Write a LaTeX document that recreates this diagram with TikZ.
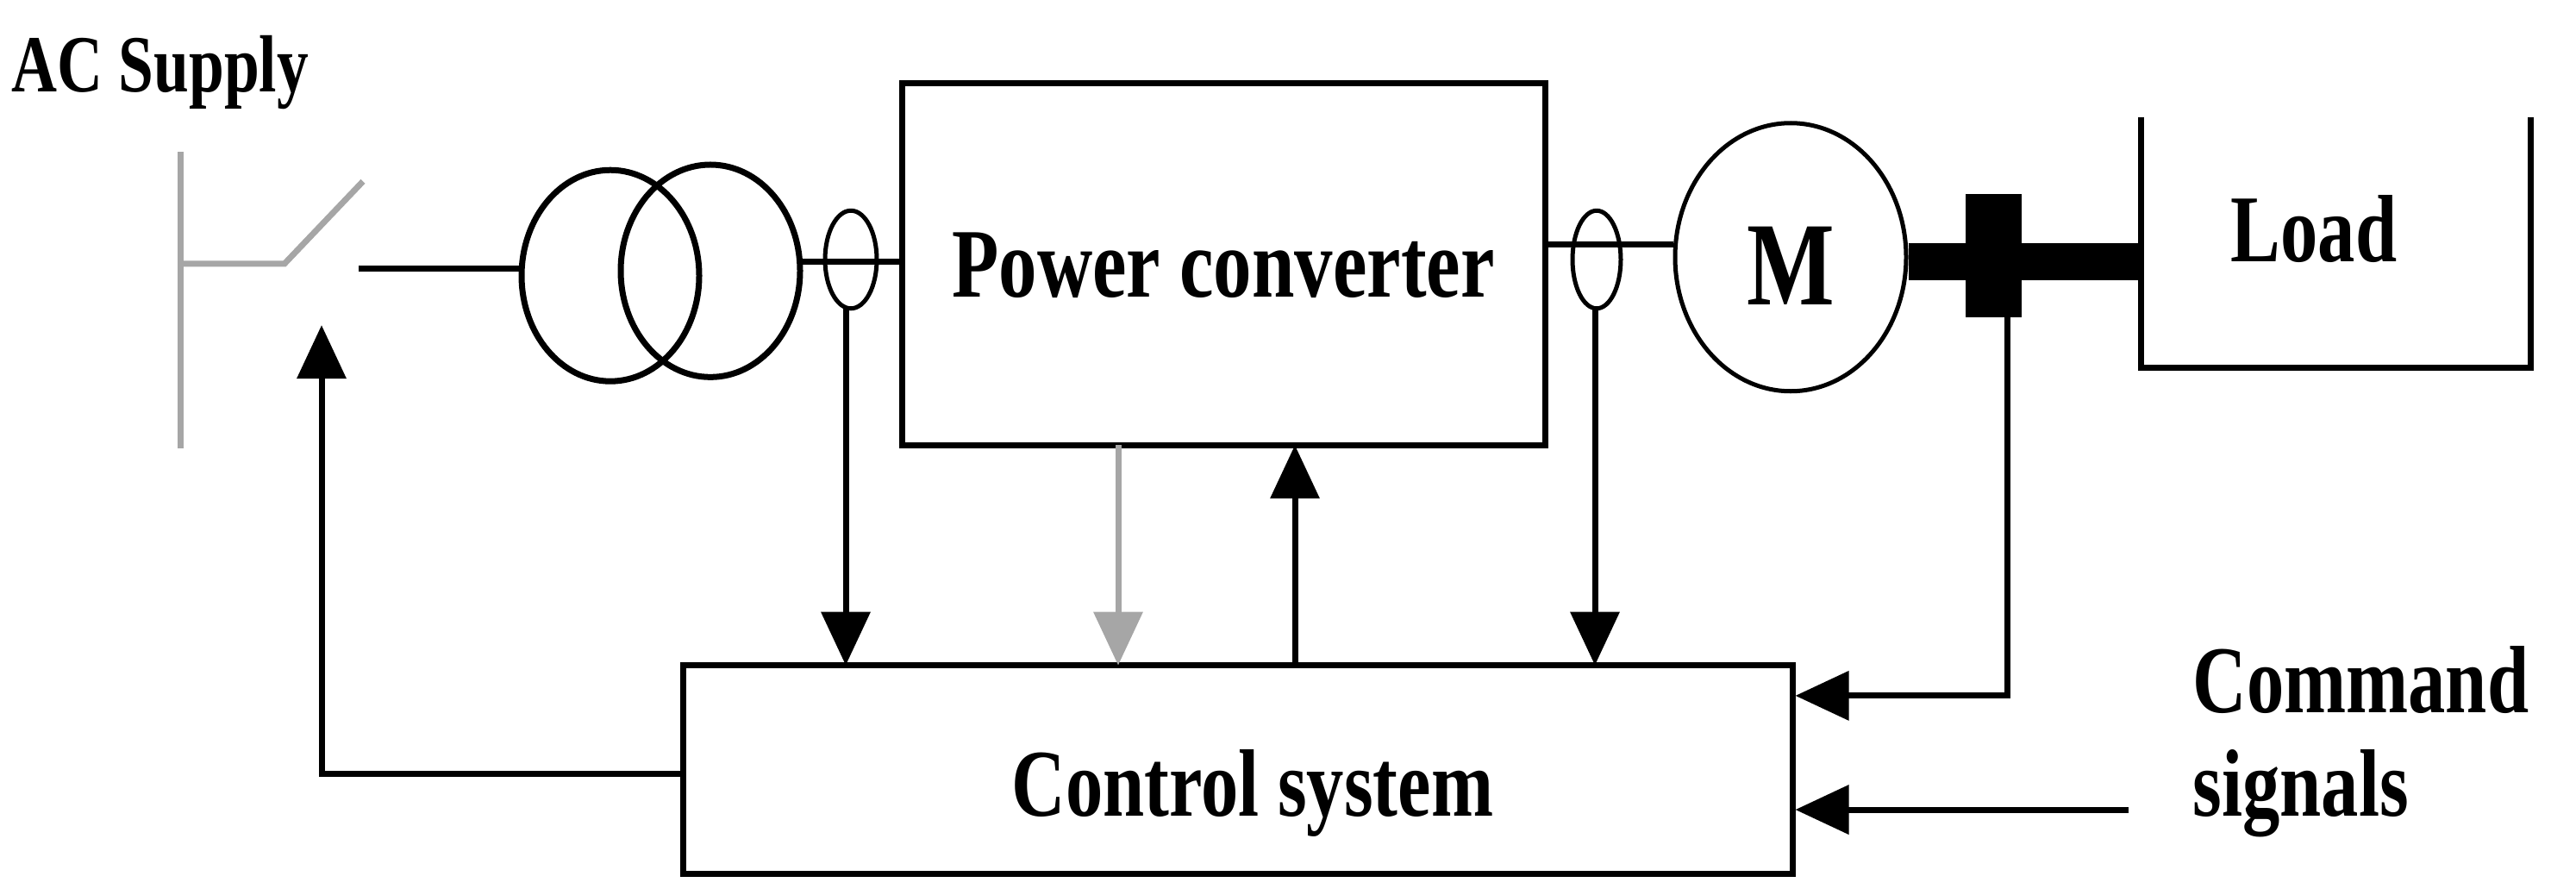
\documentclass[tikz,border=0pt]{standalone}
\usepackage{fontspec}
\setmainfont{Liberation Serif}
\usetikzlibrary{arrows.meta,shapes.geometric}
\newcommand\nt[2]{\scalebox{0.78}[1]{\fontsize{#1}{#1}\selectfont\bfseries #2}}
\begin{document}
\begin{tikzpicture}[x=1pt,y=-0.692pt,
  ln/.style={line width=7pt},
  gl/.style={line width=7pt,draw=gray!70},
  arr/.style={-{Triangle[length=62pt,width=56pt]}},
  box/.style={draw,line width=7pt,inner sep=0pt}]
\useasboundingbox (0,0) rectangle (2988,1500);
\node[anchor=west] (ac) at (10,122) {\nt{94}{AC Supply}};
% switch
\draw[gl] (209,254) -- (209,751);
\draw[gl] (209,442) -- (330,442) -- (421,304);
\coordinate (sw) at (416,450);
\coordinate (swa) at (373,545);
% transformer
\draw[ln] (708,462) ellipse [x radius=103,y radius=177];
\draw[ln] (824,454) ellipse [x radius=104,y radius=178];
\draw[ln] (sw) -- (605,450);
% power converter
\node[box,minimum width=746pt,minimum height=420pt] (pc) at (1419,442.5) {};
\node at (1419,445) {\nt{114}{Power converter}};
\draw[ln] (928,438) -- (pc.west |- 0,438);
\draw[line width=5pt] (987,435) ellipse [x radius=30,y radius=82];
% control system
\node[box,minimum width=1287pt,minimum height=241.5pt] (cs) at (1435.5,1289.5) {};
\node at (1453,1330) {\nt{111}{Control system}};
% motor
\node[draw,ellipse,line width=5pt,minimum width=268pt,minimum height=311pt,inner sep=0pt] (m) at (2077,431) {};
\node at (2077,445) {\nt{138}{M}};
\draw[ln] (pc.east |- 0,410) -- (m.west |- 0,410);
\draw[line width=5pt] (1852,435) ellipse [x radius=28,y radius=82];
% shaft and coupling
\coordinate (ld) at (2483,438);
\draw[line width=43pt] (m.east |- 0,438) -- (ld);
\node[fill=black,minimum width=65pt,minimum height=143pt,inner sep=0pt] (cp) at (2312,428) {};
% load
\draw[ln] (2483,196) -- (2483,617) -- (2935,617) -- (2935,196);
\node (load) at (2684,383) {\nt{111}{Load}};
% arrows
\draw[ln,arr] (981,517) -- (981,1115);
\draw[gl,arr] (1297,746) -- (1297,1115);
\draw[ln,arr] (1502,1115) -- (1502,746);
\draw[ln,arr] (1850,517) -- (1850,1115);
\draw[ln,arr] (cs.west |- 0,1297) -- (373,1297) -- (swa);
\draw[ln,arr] (2328,531) -- (2328,1166) -- (cs.east |- 0,1166);
\coordinate (cmd) at (2469,1357);
\draw[ln,arr] (cmd) -- (cs.east |- 0,1357);
\node[anchor=west] (c1) at (2540,1139) {\nt{111}{Command}};
\node[anchor=west] (c2) at (2540,1330) {\nt{111}{signals}};
\end{tikzpicture}
\end{document}
